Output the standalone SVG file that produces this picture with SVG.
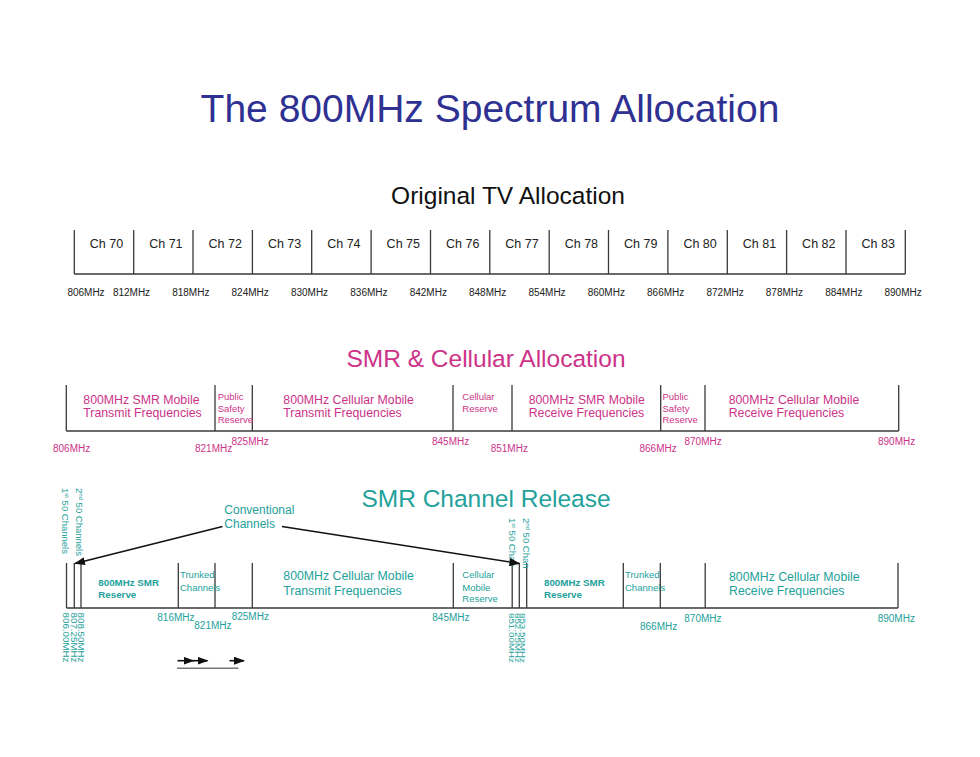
<svg xmlns="http://www.w3.org/2000/svg" width="980" height="757" viewBox="0 0 980 757">
<defs>
<style>
text{font-family:"Liberation Sans",Arial,sans-serif}
.title{font-size:39px;fill:#2e3192;text-anchor:middle}
.sub{font-size:24.5px;text-anchor:middle}
.ln{stroke:#3a3a3a;stroke-width:1.3;fill:none}
.ch{font-size:12.5px;fill:#222;text-anchor:middle}
.fq{font-size:10px;fill:#222;text-anchor:middle}
.mg{fill:#cc3388}
.tl{fill:#23a19b}
.big{font-size:12.3px}
.sm{font-size:9.5px}
.fq2{font-size:10px}
.bd{font-size:9.75px;font-weight:bold}
.vt{font-size:9.5px}
.conn{stroke:#111;stroke-width:1.6;fill:none}
</style>
<marker id="ah" markerWidth="11" markerHeight="8" refX="10" refY="4" orient="auto" markerUnits="userSpaceOnUse">
<path d="M0,0 L11,4 L0,8 Z" fill="#111"/>
</marker>
</defs>
<rect width="980" height="757" fill="#fff"/>

<g id="title"><text class="title" x="490" y="122">The 800MHz Spectrum Allocation</text></g>

<!-- Original TV Allocation -->
<g id="tv-allocation">
<text class="sub" x="508" y="204" fill="#111">Original TV Allocation</text>
<path class="ln" d="M74.3,274 H905.3 M74.3,230 V274 M133.7,230 V274 M193,230 V274 M252.4,230 V274 M311.7,230 V274 M371.1,230 V274 M430.5,230 V274 M489.8,230 V274 M549.2,230 V274 M608.5,230 V274 M667.9,230 V274 M727.3,230 V274 M786.6,230 V274 M846,230 V274 M905.3,230 V274"/>
<g id="tv-channels">
<text class="ch" x="106.5" y="248">Ch 70</text>
<text class="ch" x="165.9" y="248">Ch 71</text>
<text class="ch" x="225.2" y="248">Ch 72</text>
<text class="ch" x="284.6" y="248">Ch 73</text>
<text class="ch" x="343.9" y="248">Ch 74</text>
<text class="ch" x="403.3" y="248">Ch 75</text>
<text class="ch" x="462.7" y="248">Ch 76</text>
<text class="ch" x="522" y="248">Ch 77</text>
<text class="ch" x="581.4" y="248">Ch 78</text>
<text class="ch" x="640.7" y="248">Ch 79</text>
<text class="ch" x="700.1" y="248">Ch 80</text>
<text class="ch" x="759.5" y="248">Ch 81</text>
<text class="ch" x="818.8" y="248">Ch 82</text>
<text class="ch" x="878.2" y="248">Ch 83</text>
</g>
<g id="tv-freqs">
<text class="fq" x="86" y="296">806MHz</text>
<text class="fq" x="131.5" y="296">812MHz</text>
<text class="fq" x="190.8" y="296">818MHz</text>
<text class="fq" x="250.2" y="296">824MHz</text>
<text class="fq" x="309.5" y="296">830MHz</text>
<text class="fq" x="368.9" y="296">836MHz</text>
<text class="fq" x="428.3" y="296">842MHz</text>
<text class="fq" x="487.6" y="296">848MHz</text>
<text class="fq" x="547" y="296">854MHz</text>
<text class="fq" x="606.3" y="296">860MHz</text>
<text class="fq" x="665.7" y="296">866MHz</text>
<text class="fq" x="725.1" y="296">872MHz</text>
<text class="fq" x="784.4" y="296">878MHz</text>
<text class="fq" x="843.8" y="296">884MHz</text>
<text class="fq" x="903.1" y="296">890MHz</text>
</g>
</g>

<!-- SMR & Cellular Allocation -->
<g id="smr-cellular-allocation">
<text class="sub mg" x="486" y="367">SMR &amp; Cellular Allocation</text>
<path class="ln" d="M66.3,431 H898.7 M66.3,385 V431 M215,385 V431 M252.3,385 V431 M453,385 V431 M512,385 V431 M660.7,385 V431 M705,385 V431 M898.7,385 V431"/>
<g id="smr-tx"><text class="mg big" x="83.3" y="403.5">800MHz SMR Mobile</text><text class="mg big" x="83.3" y="417">Transmit Frequencies</text></g>
<g id="ps-reserve-1"><text class="mg sm" x="217.7" y="400">Public</text><text class="mg sm" x="217.7" y="411.5">Safety</text><text class="mg sm" x="217.7" y="423">Reserve</text></g>
<g id="cell-tx"><text class="mg big" x="283.3" y="403.5">800MHz Cellular Mobile</text><text class="mg big" x="283.3" y="417">Transmit Frequencies</text></g>
<g id="cell-reserve"><text class="mg sm" x="462.3" y="400">Cellular</text><text class="mg sm" x="462.3" y="411.5">Reserve</text></g>
<g id="smr-rx"><text class="mg big" x="528.7" y="403.5">800MHz SMR Mobile</text><text class="mg big" x="528.7" y="417">Receive Frequencies</text></g>
<g id="ps-reserve-2"><text class="mg sm" x="662.5" y="400">Public</text><text class="mg sm" x="662.5" y="411.5">Safety</text><text class="mg sm" x="662.5" y="423">Reserve</text></g>
<g id="cell-rx"><text class="mg big" x="728.7" y="403.5">800MHz Cellular Mobile</text><text class="mg big" x="728.7" y="417">Receive Frequencies</text></g>
<g id="smr-freqs">
<text class="mg fq2" x="53" y="452">806MHz</text>
<text class="mg fq2" x="195" y="452">821MHz</text>
<text class="mg fq2" x="231.5" y="444.5">825MHz</text>
<text class="mg fq2" x="432" y="444.5">845MHz</text>
<text class="mg fq2" x="490.7" y="451.5">851MHz</text>
<text class="mg fq2" x="639.5" y="452">866MHz</text>
<text class="mg fq2" x="684.5" y="444.5">870MHz</text>
<text class="mg fq2" x="878" y="444.5">890MHz</text>
</g>
</g>

<!-- SMR Channel Release -->
<g id="smr-channel-release">
<text class="sub tl" x="486" y="507">SMR Channel Release</text>
<path class="ln" d="M66.5,608 H898 M66.5,563 V608 M74.3,563 V608 M81,563 V608 M178.3,563 V608 M215,563 V608 M252.3,563 V608 M453.3,563 V608 M512.2,563 V608 M519.3,563 V608 M526.7,563 V608 M623.3,563 V608 M660.3,563 V608 M705.2,563 V608 M898,563 V608"/>
<g id="first50-a"><text class="tl vt" transform="translate(62,488) rotate(90)">1<tspan font-size="6" dy="-3">st</tspan><tspan dy="3"> 50 Channels</tspan></text></g>
<g id="second50-a"><text class="tl vt" transform="translate(76,488) rotate(90)">2<tspan font-size="6" dy="-3">nd</tspan><tspan dy="3"> 50 Channels</tspan></text></g>
<g id="smr-reserve-1"><text class="tl bd" x="98.3" y="586">800MHz SMR</text><text class="tl bd" x="98.3" y="598">Reserve</text></g>
<g id="trunked-1"><text class="tl sm" x="180" y="578">Trunked</text><text class="tl sm" x="180" y="590.5">Channels</text></g>
<g id="cell-tx-2"><text class="tl big" x="283.3" y="580">800MHz Cellular Mobile</text><text class="tl big" x="283.3" y="594.5">Transmit Frequencies</text></g>
<g id="cell-mobile-reserve"><text class="tl sm" x="462.3" y="578">Cellular</text><text class="tl sm" x="462.3" y="590.5">Mobile</text><text class="tl sm" x="462.3" y="602">Reserve</text></g>
<g id="first50-b"><text class="tl vt" transform="translate(509,518) rotate(90)">1<tspan font-size="6" dy="-3">st</tspan><tspan dy="3"> 50 Chan</tspan></text></g>
<g id="second50-b"><text class="tl vt" transform="translate(523.3,518) rotate(90)">2<tspan font-size="6" dy="-3">nd</tspan><tspan dy="3"> 50 Chan</tspan></text></g>
<g id="smr-reserve-2"><text class="tl bd" x="544" y="586">800MHz SMR</text><text class="tl bd" x="544" y="597.5">Reserve</text></g>
<g id="trunked-2"><text class="tl sm" x="625" y="578">Trunked</text><text class="tl sm" x="625" y="590.5">Channels</text></g>
<g id="cell-rx-2"><text class="tl big" x="729" y="580.5">800MHz Cellular Mobile</text><text class="tl big" x="729" y="594.5">Receive Frequencies</text></g>
<g id="conventional"><text class="tl" font-size="12" x="224.3" y="514">Conventional</text><text class="tl" font-size="12" x="224.3" y="527.5">Channels</text></g>
<g id="release-freqs">
<text class="tl" font-size="8.5" textLength="50" lengthAdjust="spacingAndGlyphs" transform="translate(63,612.5) rotate(90)">806.00MHz</text>
<text class="tl" font-size="8.5" textLength="50" lengthAdjust="spacingAndGlyphs" transform="translate(70.5,612.5) rotate(90)">807.25MHz</text>
<text class="tl" font-size="8.5" textLength="50" lengthAdjust="spacingAndGlyphs" transform="translate(77.5,612.5) rotate(90)">808.50MHz</text>
<text class="tl fq2" x="157.3" y="620.5">816MHz</text>
<text class="tl fq2" x="194.3" y="629">821MHz</text>
<text class="tl fq2" x="231.7" y="619.5">825MHz</text>
<text class="tl fq2" x="432.3" y="621">845MHz</text>
<text class="tl" font-size="7.5" textLength="50" lengthAdjust="spacingAndGlyphs" transform="translate(509,613) rotate(90)">851.00MHz</text>
<text class="tl" font-size="7.5" textLength="50" lengthAdjust="spacingAndGlyphs" transform="translate(514.5,613) rotate(90)">852.25MHz</text>
<text class="tl" font-size="7.5" textLength="50" lengthAdjust="spacingAndGlyphs" transform="translate(520,613) rotate(90)">853.50MHz</text>
<text class="tl fq2" x="640" y="630">866MHz</text>
<text class="tl fq2" x="684.3" y="622">870MHz</text>
<text class="tl fq2" x="877.7" y="622">890MHz</text>
</g>
</g>

<g id="connectors">
<line class="conn" x1="222.5" y1="526.5" x2="75" y2="563.5" marker-end="url(#ah)"/>
<line class="conn" x1="282" y1="526.5" x2="519.5" y2="563.5" marker-end="url(#ah)"/>
</g>

<g id="legend-arrows">
<line class="conn" x1="177.5" y1="660.7" x2="193.5" y2="660.7" marker-end="url(#ah)"/>
<line class="conn" x1="193" y1="660.7" x2="207.5" y2="660.7" marker-end="url(#ah)"/>
<line class="conn" x1="229.5" y1="660.7" x2="244" y2="660.7" marker-end="url(#ah)"/>
<line x1="177" y1="668.3" x2="238.5" y2="668.3" stroke="#777" stroke-width="1.5"/>
</g>
</svg>
